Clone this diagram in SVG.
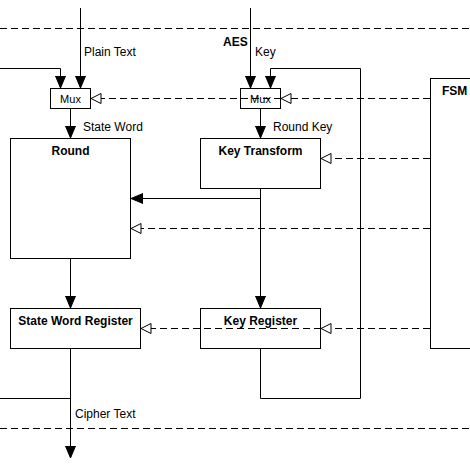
<svg xmlns="http://www.w3.org/2000/svg" width="470" height="470" viewBox="0 0 470 470">
<style>
.box{fill:#fff;stroke:#000;stroke-width:1}
.ln{fill:none;stroke:#000;stroke-width:1}
.dash{fill:none;stroke:#000;stroke-width:1;stroke-dasharray:7 4}
text{font-family:"Liberation Sans",Arial,sans-serif;font-size:12px;fill:#000}
.b{font-weight:bold}
.m{text-anchor:middle}
.mux{font-size:11px}
</style>
<defs>
<marker id="fa" viewBox="0 0 12 12" refX="12" refY="6" markerWidth="12" markerHeight="12" markerUnits="userSpaceOnUse" orient="auto">
<path d="M0,1 L12,6 L0,11 Z" fill="#000" stroke="#000"/>
</marker>
<marker id="oa" viewBox="0 0 12 12" refX="11" refY="6" markerWidth="12" markerHeight="12" markerUnits="userSpaceOnUse" orient="auto">
<path d="M1,1 L11,6 L1,11 Z" fill="#fff" stroke="#000"/>
</marker>
</defs>
<g id="boundaries">
<line class="dash" x1="0" y1="28.5" x2="470" y2="28.5"/>
<line class="dash" x1="0" y1="428.5" x2="470" y2="428.5"/>
<text class="b" x="223" y="46">AES</text>
</g>
<g id="fsm">
<rect class="box" x="430.5" y="78.5" width="50" height="270"/>
<text class="b" x="442" y="95">FSM</text>
</g>
<g id="mux1">
<rect class="box" x="50.5" y="88.5" width="40" height="20"/>
<text class="m mux" x="70.5" y="103">Mux</text>
</g>
<g id="mux2">
<rect class="box" x="240.5" y="88.5" width="40" height="20"/>
<text class="m mux" x="260.5" y="103">Mux</text>
</g>
<g id="round">
<rect class="box" x="10.5" y="138.5" width="120" height="120"/>
<text class="b m" x="70.5" y="155">Round</text>
</g>
<g id="keytransform">
<rect class="box" x="200.5" y="138.5" width="120" height="50"/>
<text class="b m" x="260.5" y="155">Key Transform</text>
</g>
<g id="stateWordRegister">
<rect class="box" x="10.5" y="308.5" width="130" height="40"/>
<text class="b m" x="75.5" y="325">State Word Register</text>
</g>
<g id="keyRegister">
<rect class="box" x="200.5" y="308.5" width="120" height="40"/>
<text class="b m" x="260.5" y="325">Key Register</text>
</g>
<g id="connectors">
<line class="ln" x1="80.5" y1="8" x2="80.5" y2="88" marker-end="url(#fa)"/>
<polyline class="ln" points="0,68.5 60.5,68.5 60.5,88" marker-end="url(#fa)"/>
<line class="ln" x1="250.5" y1="8" x2="250.5" y2="88" marker-end="url(#fa)"/>
<polyline class="ln" points="260.5,348.5 260.5,398.5 360.5,398.5 360.5,68.5 270.5,68.5 270.5,88" marker-end="url(#fa)"/>
<line class="ln" x1="70.5" y1="108.5" x2="70.5" y2="138" marker-end="url(#fa)"/>
<line class="ln" x1="260.5" y1="108.5" x2="260.5" y2="138" marker-end="url(#fa)"/>
<line class="ln" x1="260.5" y1="188.5" x2="260.5" y2="308" marker-end="url(#fa)"/>
<polyline class="ln" points="260.5,198.5 131,198.5" marker-end="url(#fa)"/>
<line class="ln" x1="70.5" y1="258.5" x2="70.5" y2="308" marker-end="url(#fa)"/>
<line class="ln" x1="70.5" y1="348.5" x2="70.5" y2="458" marker-end="url(#fa)"/>
<line class="ln" x1="0" y1="398.5" x2="70.5" y2="398.5"/>
<line class="dash" x1="430" y1="98.5" x2="281" y2="98.5" marker-end="url(#oa)"/>
<line class="dash" x1="281" y1="98.5" x2="91" y2="98.5" marker-end="url(#oa)"/>
<line class="dash" x1="430" y1="158.5" x2="321" y2="158.5" marker-end="url(#oa)"/>
<line class="dash" x1="430" y1="228.5" x2="131" y2="228.5" marker-end="url(#oa)"/>
<line class="dash" x1="430" y1="328.5" x2="321" y2="328.5" marker-end="url(#oa)"/>
<line class="dash" x1="321" y1="328.5" x2="141" y2="328.5" marker-end="url(#oa)"/>
<text x="84" y="56">Plain Text</text>
<text x="255" y="56">Key</text>
<text x="83" y="131">State Word</text>
<text x="273" y="131">Round Key</text>
<text x="75" y="418">Cipher Text</text>
</g>
</svg>
